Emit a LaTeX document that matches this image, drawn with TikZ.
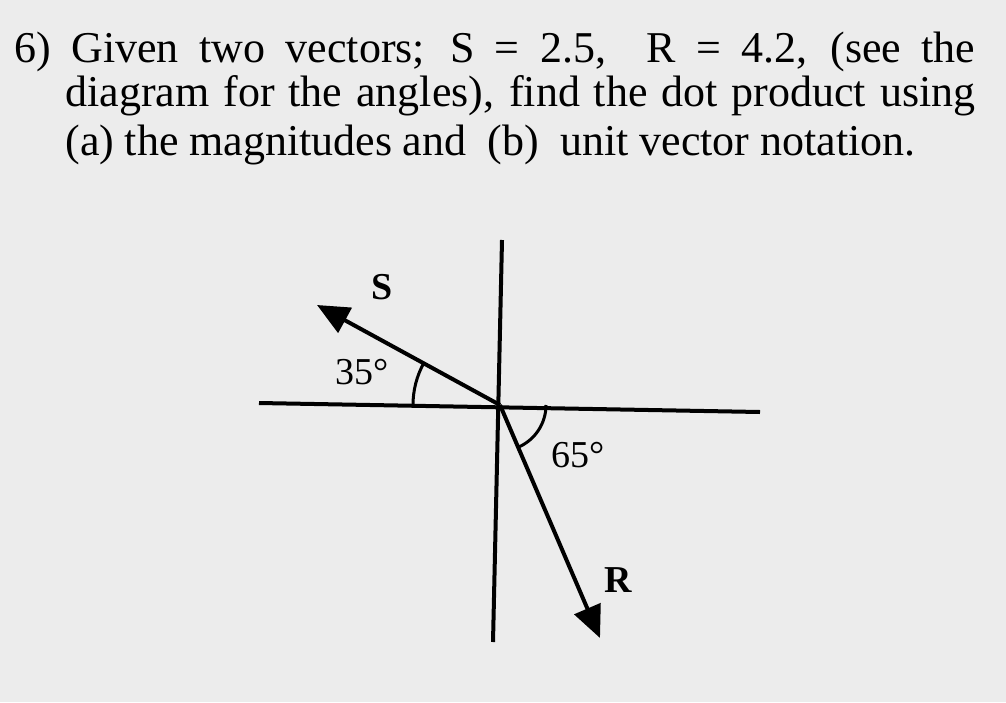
\documentclass[tikz,border=0pt]{standalone}
\usepackage{fontspec}
\setmainfont{Liberation Serif}
\usetikzlibrary{arrows.meta}
\definecolor{paper}{RGB}{236,236,236}
\tikzstyle{axis}=[draw=black,line width=2pt]
\tikzstyle{vec}=[draw=black,line width=2pt,
                 -{Triangle[length=16pt,width=14pt]}]
\tikzstyle{anglearc}=[draw=black,line width=1.5pt]
\tikzstyle{textline}=[anchor=base west,inner sep=0pt,
                      font=\fontsize{22}{26}\selectfont]
\tikzstyle{veclabel}=[inner sep=0pt,font=\fontsize{19}{21}\selectfont\bfseries]
\tikzstyle{anglabel}=[inner sep=0pt,font=\fontsize{19}{21}\selectfont]
\begin{document}
\begin{tikzpicture}[x=0.5pt,y=0.5pt]
    \fill[paper] (0,0) rectangle (1006,-702);
    \useasboundingbox (0,0) rectangle (1006,-702);
    % question text
    \node (q1) at (14,-62) [textline]{\makebox[480.5pt][s]{6) Given two vectors; S = 2.5,\ \ R = 4.2, (see the}};
    \node (q2) at (65,-106) [textline]{\makebox[455pt][s]{diagram for the angles), find the dot product using}};
    \node (q3) at (65,-155) [textline]{\makebox[425pt][s]{(a) the magnitudes and\ \ (b)\ \ unit vector notation.}};
    % axes and vectors
    \coordinate (o) at (500,-405);
    \coordinate (ytop) at (502,-240);
    \coordinate (ybot) at (493,-642);
    \coordinate (xleft) at (259,-403);
    \coordinate (xright) at (760,-412);
    \coordinate (stip) at (317,-305);
    \coordinate (rtip) at (600,-638);
    \draw[axis] (ytop) -- (ybot);
    \draw[axis] (xleft) -- (xright);
    \draw[vec] (o) -- (stip);
    \draw[vec] (o) -- (rtip);
    \draw[anglearc] (o) ++(180:87) arc[start angle=180,end angle=151,radius=87];
    \draw[anglearc] (o) ++(0:46) arc[start angle=0,end angle=-67,radius=46];
    \node (slab) at (382,-287) [veclabel]{S};
    \node (rlab) at (618,-580) [veclabel]{R};
    \node (a35) at (362,-372) [anglabel]{35°};
    \node (a65) at (578,-455) [anglabel]{65°};
\end{tikzpicture}
\end{document}
